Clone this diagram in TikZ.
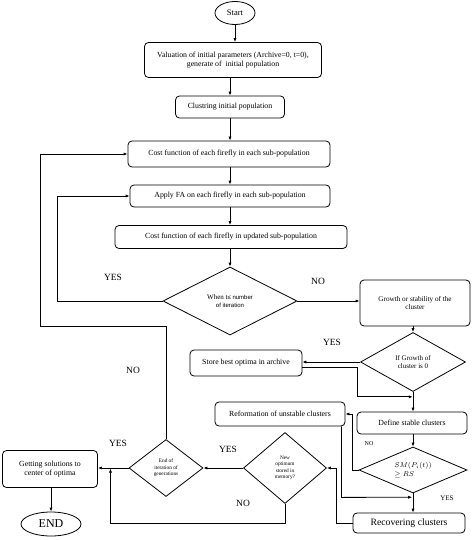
\documentclass[tikz,border=0pt]{standalone}
\usepackage{fontspec}
\setmainfont{Liberation Serif}
\newfontfamily\sansf{Liberation Sans}
\usetikzlibrary{shapes.geometric,arrows.meta,calc}
\begin{document}
\begin{tikzpicture}[x=1pt,y=-1pt,
  every node/.style={inner sep=0pt, align=center},
  box/.style={draw, rounded corners=4pt, line width=0.8pt, font=\fontsize{7.8}{9.2}\selectfont},
  dia/.style={draw, diamond, line width=0.8pt},
  term/.style={draw, ellipse, line width=0.8pt},
  arr/.style={line width=0.8pt, -{Latex[length=4pt,width=3.2pt]}},
  lab/.style={font=\fontsize{9.5}{10}\selectfont}]
\useasboundingbox (0,0) rectangle (474,540);

% nodes
\node[term, minimum width=40pt, minimum height=23pt, font=\fontsize{8.5}{9}\selectfont] (start) at (235,13) {Start};
\node[box, minimum width=177pt, minimum height=35pt] (b1) at (233,60) {Valuation of initial parameters (Archive=0, t=0),\\generate of \ initial population};
\node[box, minimum width=109pt, minimum height=22pt] (b2) at (230,107) {Clustring initial population};
\node[box, minimum width=202pt, minimum height=26pt] (b3) at (229,154) {Cost function of each firefly in each sub-population};
\node[box, minimum width=200pt, minimum height=22pt] (b4) at (230,196) {Apply FA on each firefly in each sub-population};
\node[box, minimum width=232pt, minimum height=23pt] (b5) at (231,237) {Cost function of each firefly in updated sub-population};
\node[dia, minimum width=134pt, minimum height=68pt, shape aspect=2, font=\fontsize{7}{8.5}\selectfont] (d1) at (230,301) {When t{\sansf\fontsize{6}{8.5}\selectfont ≤ number}\\{\sansf\fontsize{6}{8.5}\selectfont of iteration}};
\node[box, minimum width=110pt, minimum height=46pt, font=\fontsize{7.2}{8.8}\selectfont] (grow) at (415,303) {Growth or stability of the\\cluster};
\node[dia, minimum width=105pt, minimum height=59pt, shape aspect=1.8, font=\fontsize{7}{8.5}\selectfont] (d2) at (413,362) {If Growth of\\cluster is 0};
\node[box, minimum width=112pt, minimum height=26pt] (store) at (246,363) {Store best optima in archive};
\node[box, minimum width=110pt, minimum height=22pt] (def) at (412,423) {Define stable clusters};
\node[box, minimum width=130pt, minimum height=24pt] (ref) at (280,414) {Reformation of unstable clusters};
\node[dia, minimum width=108pt, minimum height=46pt, shape aspect=2.3, align=left, font=\fontsize{7}{8.5}\selectfont] (d3) at (413,470) {$SM(P_i(t))$\\$\geq RS$};
\node[box, minimum width=112pt, minimum height=20pt, font=\fontsize{9.7}{10.5}\selectfont] (rec) at (409,523) {Recovering clusters};
\node[dia, minimum width=83pt, minimum height=71pt, font=\fontsize{5.3}{6.5}\selectfont] (d4) at (285,468) {New\\optimum\\stored in\\memory?};
\node[dia, minimum width=74pt, minimum height=57pt, font=\fontsize{5.3}{6.5}\selectfont] (d5) at (166,468) {End of\\iteration of\\generations};
\node[box, minimum width=95pt, minimum height=37pt] (get) at (50,469) {Getting solutions to\\center of optima};
\node[term, minimum width=60pt, minimum height=24pt, font=\fontsize{12}{13}\selectfont] (end) at (51,524) {END};

% main chain
\draw[arr] (start.south) -- (start.south |- b1.north);
\draw[arr] (b1.south -| b2.north) -- (b2.north);
\draw[arr] (b2.south) -- (b2.south |- b3.north);
\draw[arr] (b3.south -| b4.north) -- (b4.north);
\draw[arr] (b4.south) -- (b4.south |- b5.north);
\draw[arr] (b5.south -| d1.north) -- (d1.north);

% YES loop back to FA
\draw[arr] (d1.west) -- ++(-105,0) |- (b4.west);
% NO to growth
\draw[arr] (d1.east) -- (d1.east -| grow.west);
\draw[arr] (grow.south -| d2.north) -- (d2.north);
% YES to store
\draw[arr] (d2.west) -- (d2.west -| store.east);
\coordinate (j1) at ($(d2.south)!0.25!(def.north)$);
\draw[arr] (d2.south) -- (d2.south |- def.north);
\draw[arr] ([yshift=-4pt]store.east) -- ++(55,0) |- (j1);
% define -> d3
\draw[arr] (def.south -| d3.north) -- (d3.north);
% NO -> reformation
\draw[arr] (d3.west) -- ++(-6,0) |- (ref.east);
% reformation -> join
\coordinate (j2) at ($(d3.south)!0.2!(rec.north)$);
\draw[arr] (d3.south) -- (d3.south |- rec.north);
\draw[arr] ([xshift=-4pt]ref.south east) -- ++(0,71) -- (j2);
% recovering -> d4
\draw[arr] (rec.west) -- ++(-16,0) |- (d4.east);
% d4 -> d5
\draw[arr] (d4.west) -- (d5.east);
% d4 NO -> join
\coordinate (j3) at ($(d5.west)!0.59!(get.east)$);
\draw[arr] (d4.south) -- ++(0,19) -| (j3);
% d5 YES -> get
\draw[arr] (d5.west) -- (d5.west -| get.east);
% d5 NO -> cost function
\draw[arr] (d5.north) -- ++(0,-113) -- ++(-126,0) |- (b3.west);
% get -> end
\draw[arr] (get.south -| end.north) -- (end.north);

% labels
\node[lab] at (113,277) {YES};
\node[lab] at (318,281) {NO};
\node[lab] at (332,342) {YES};
\node[font=\fontsize{6}{7}\selectfont] at (369,444) {NO};
\node[font=\fontsize{7}{8}\selectfont] at (447,498) {YES};
\node[lab] at (228,449) {YES};
\node[lab] at (243,503) {NO};
\node[lab] at (118,443) {YES};
\node[lab] at (133,370) {NO};
\end{tikzpicture}
\end{document}
